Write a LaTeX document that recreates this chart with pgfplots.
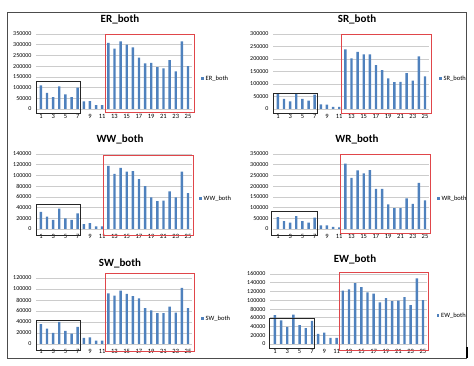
\documentclass[border=0pt]{standalone}
\usepackage{pgfplots}
\pgfplotsset{compat=1.18}
\usepackage{fontspec}
\setmainfont{Carlito}
\definecolor{barblue}{HTML}{4F81BD}
\definecolor{boxred}{HTML}{E0464A}
\pgfplotsset{panel/.style={
  scale only axis, anchor=south west,
  xmin=0.2, xmax=25.65, ymin=0,
  axis line style={draw=none},
  ymajorgrids, major grid style={draw=gray!40, line width=0.5pt},
  major tick length=0pt,
  xtick={1,3,...,25},
  scaled y ticks=false,
  /pgf/number format/assume math mode=true,
  yticklabel style={font=\fontsize{6}{6}\selectfont, /pgf/number format/fixed, /pgf/number format/1000 sep={}, xshift=-1pt},
  xticklabel style={font=\fontsize{6.5}{6.5}\selectfont, yshift=-1.5pt},
  ybar, bar width=2.4pt,
  legend style={anchor=west, draw=none, fill=none, font=\fontsize{6.5}{6.5}\selectfont, inner sep=0pt, legend cell align=left},
  legend image code/.code={\fill[barblue] (0pt,-1pt) rectangle (2.5pt,1.5pt);},
  clip=false,
}}
\begin{document}
\begin{tikzpicture}[x=1pt,y=1pt]
\path (0,0) rectangle (474,366);
% ER
\begin{axis}[panel, at={(36pt,257pt)}, width=156pt, height=75pt, ymax=350000, ytick distance=50000,
  legend style={at={(1.058,0.4)}}]
\addplot[fill=barblue, draw=none] coordinates {(1,110000)(2,75000)(3,55000)(4,105000)(5,68000)(6,55000)(7,100000)(8,35000)(9,37000)(10,18000)(11,18000)(12,308000)(13,282000)(14,315000)(15,300000)(16,288000)(17,240000)(18,213000)(19,215000)(20,195000)(21,190000)(22,228000)(23,175000)(24,315000)(25,200000)};
\addlegendentry{ER\_both}
\end{axis}
% SR
\begin{axis}[panel, at={(273pt,257pt)}, width=156pt, height=75pt, ymax=300000, ytick distance=50000,
  legend style={at={(1.064,0.4)}}]
\addplot[fill=barblue, draw=none] coordinates {(1,62000)(2,40000)(3,30000)(4,63000)(5,40000)(6,33000)(7,57000)(8,18000)(9,17000)(10,8000)(11,8000)(12,238000)(13,202000)(14,228000)(15,218000)(16,218000)(17,175000)(18,155000)(19,122000)(20,107000)(21,108000)(22,143000)(23,113000)(24,210000)(25,130000)};
\addlegendentry{SR\_both}
\end{axis}
% WW
\begin{axis}[panel, at={(36pt,137pt)}, width=156pt, height=75pt, ymax=140000, ytick distance=20000,
  legend style={at={(1.045,0.4)}}]
\addplot[fill=barblue, draw=none] coordinates {(1,32000)(2,23000)(3,17000)(4,38000)(5,20000)(6,17000)(7,29000)(8,9000)(9,11000)(10,5000)(11,5000)(12,118000)(13,103000)(14,114000)(15,107000)(16,108000)(17,93000)(18,80000)(19,59000)(20,52000)(21,53000)(22,70000)(23,59000)(24,107000)(25,67000)};
\addlegendentry{WW\_both}
\end{axis}
% WR
\begin{axis}[panel, at={(273pt,137pt)}, width=156pt, height=75pt, ymax=350000, ytick distance=50000,
  legend style={at={(1.05,0.4)}}]
\addplot[fill=barblue, draw=none] coordinates {(1,55000)(2,37000)(3,30000)(4,60000)(5,37000)(6,30000)(7,53000)(8,17000)(9,17000)(10,10000)(11,8000)(12,305000)(13,238000)(14,273000)(15,260000)(16,275000)(17,187000)(18,187000)(19,115000)(20,97000)(21,97000)(22,143000)(23,117000)(24,215000)(25,133000)};
\addlegendentry{WR\_both}
\end{axis}
% SW
\begin{axis}[panel, at={(36pt,22pt)}, width=156pt, height=66pt, ymax=120000, ytick distance=20000,
  legend style={at={(1.058,0.38)}}]
\addplot[fill=barblue, draw=none] coordinates {(1,36000)(2,28000)(3,20000)(4,40000)(5,24000)(6,19000)(7,31000)(8,11000)(9,12000)(10,6000)(11,6000)(12,92000)(13,88000)(14,97000)(15,91000)(16,87000)(17,83000)(18,65000)(19,61000)(20,56000)(21,56000)(22,68000)(23,57000)(24,102000)(25,65000)};
\addlegendentry{SW\_both}
\end{axis}
% EW
\begin{axis}[panel, at={(270pt,22pt)}, width=157pt, height=70pt, ymax=160000, ytick distance=20000,
  legend style={at={(1.06,0.4)}}]
\addplot[fill=barblue, draw=none] coordinates {(1,66000)(2,54000)(3,39000)(4,67000)(5,43000)(6,36000)(7,53000)(8,23000)(9,26000)(10,14000)(11,14000)(12,122000)(13,125000)(14,139000)(15,130000)(16,118000)(17,115000)(18,95000)(19,105000)(20,98000)(21,99000)(22,107000)(23,89000)(24,150000)(25,100000)};
\addlegendentry{EW\_both}
\end{axis}
% titles
\node[font=\fontsize{11}{11}\selectfont\bfseries] at (120,347) {ER\_both};
\node[font=\fontsize{11}{11}\selectfont\bfseries] at (357,347) {SR\_both};
\node[font=\fontsize{11}{11}\selectfont\bfseries] at (120,227) {WW\_both};
\node[font=\fontsize{11}{11}\selectfont\bfseries] at (357,227) {WR\_both};
\node[font=\fontsize{11}{11}\selectfont\bfseries] at (120,103) {SW\_both};
\node[font=\fontsize{11}{11}\selectfont\bfseries] at (355,107) {EW\_both};
% highlight boxes
\begin{scope}[line width=0.9pt]
\draw[boxred] (105,332) rectangle (194,254);
\draw[black!85] (36,285) rectangle (80,253);
\draw[boxred] (341,332) rectangle (431,253);
\draw[black!85] (273,273) rectangle (317,253);
\draw[boxred] (103,211) rectangle (193,131);
\draw[black!85] (36,162) rectangle (80,131);
\draw[boxred] (340,212) rectangle (430,133);
\draw[black!85] (271,155) rectangle (317,131);
\draw[boxred] (105,93) rectangle (194,15);
\draw[black!85] (36,46) rectangle (80,16);
\draw[boxred] (339,94) rectangle (428,16);
\draw[black!85] (269,48) rectangle (314,18);
\end{scope}
% outer frame
\draw[black!70, line width=0.8pt] (7,354) rectangle (466,8);
\draw[black, line width=2.5pt] (467,19) -- (467,8);
\end{tikzpicture}
\end{document}
